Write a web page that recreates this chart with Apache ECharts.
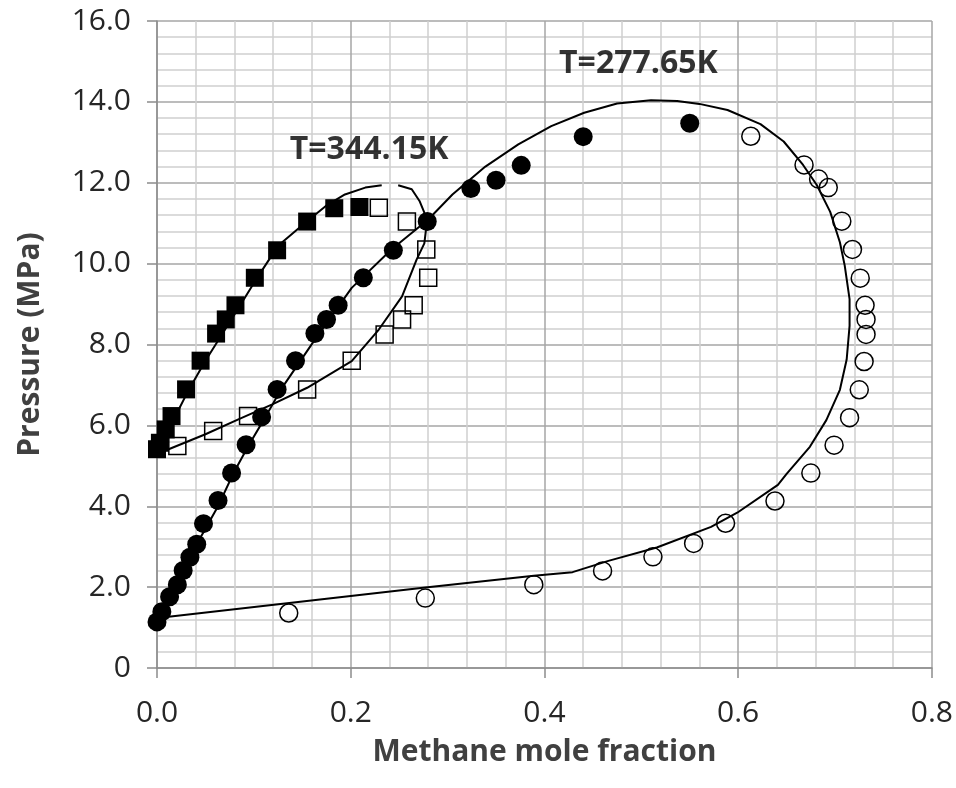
<!DOCTYPE html>
<html>
<head>
<meta charset="utf-8">
<script src="https://cdn.jsdelivr.net/npm/echarts@6/dist/echarts.min.js"></script>
<style>
  html, body { margin: 0; padding: 0; background: #fff; }
  #chart { width: 956px; height: 788px; }
</style>
</head>
<body>
<div id="chart"></div>
<script>
// T = 344.15 K, measured (filled squares = liquid, open squares = vapour)
const sq344X = [0.000, 0.003, 0.009, 0.015, 0.030, 0.045, 0.061, 0.071, 0.081, 0.101, 0.124, 0.155, 0.183, 0.209]
const sq344Y = [5.41, 5.57, 5.90, 6.23, 6.89, 7.60, 8.27, 8.62, 8.97, 9.65, 10.33, 11.04, 11.37, 11.40]
const osq344X = [0.021, 0.058, 0.094, 0.155, 0.201, 0.235, 0.253, 0.265, 0.280, 0.278, 0.258, 0.229]
const osq344Y = [5.49, 5.86, 6.23, 6.89, 7.60, 8.25, 8.62, 8.97, 9.65, 10.35, 11.04, 11.38]

// T = 277.65 K, measured (filled circles / open circles)
const ci277X = [0.000, 0.005, 0.013, 0.021, 0.027, 0.034, 0.041, 0.048, 0.063, 0.077, 0.092, 0.108, 0.124,
  0.143, 0.163, 0.175, 0.187, 0.213, 0.244, 0.279, 0.324, 0.350, 0.376, 0.440, 0.550]
const ci277Y = [1.14, 1.39, 1.76, 2.06, 2.41, 2.74, 3.06, 3.57, 4.14, 4.82, 5.52, 6.21, 6.89,
  7.60, 8.27, 8.62, 8.97, 9.65, 10.33, 11.04, 11.86, 12.06, 12.43, 13.14, 13.47]
const oci277X = [0.136, 0.277, 0.389, 0.460, 0.512, 0.554, 0.587, 0.638, 0.675, 0.699, 0.715, 0.725,
  0.730, 0.732, 0.732, 0.731, 0.726, 0.718, 0.707, 0.693, 0.683, 0.668, 0.613]
const oci277Y = [1.36, 1.73, 2.06, 2.40, 2.75, 3.08, 3.58, 4.13, 4.82, 5.51, 6.19, 6.88,
  7.58, 8.25, 8.62, 8.97, 9.64, 10.35, 11.05, 11.88, 12.09, 12.44, 13.15]

// model curves
const bub344X = [0.002, 0.019, 0.033, 0.050, 0.081, 0.101, 0.125, 0.153, 0.174, 0.194, 0.215, 0.232]
const bub344Y = [5.45, 6.23, 6.89, 7.60, 8.78, 9.56, 10.44, 11.01, 11.42, 11.71, 11.88, 11.94]
const dew344X = [0.005, 0.012, 0.050, 0.084, 0.119, 0.155, 0.201, 0.229, 0.253, 0.268, 0.276, 0.278, 0.276, 0.271, 0.263, 0.249]
const dew344Y = [5.35, 5.41, 5.78, 6.15, 6.52, 6.93, 7.59, 8.37, 9.19, 10.10, 10.50, 10.90, 11.26, 11.55, 11.84, 11.94]
const env277X = [0.000, 0.013, 0.027, 0.041, 0.063, 0.079, 0.095, 0.112, 0.128, 0.163, 0.201, 0.242, 0.280, 0.305,
  0.339, 0.373, 0.407, 0.441, 0.475, 0.510, 0.537, 0.560, 0.589, 0.623, 0.647, 0.667, 0.681, 0.695,
  0.705, 0.710, 0.715, 0.715, 0.712, 0.705, 0.691, 0.674, 0.650, 0.641, 0.599, 0.572, 0.516, 0.466,
  0.429, 0.389, 0.277, 0.012]
const env277Y = [1.16, 1.76, 2.41, 3.06, 4.00, 4.82, 5.52, 6.21, 6.89, 8.12, 9.40, 10.35, 11.09, 11.71,
  12.40, 12.95, 13.40, 13.73, 13.96, 14.04, 14.02, 13.95, 13.80, 13.45, 13.02, 12.44, 11.95, 11.28,
  10.53, 9.95, 9.12, 8.46, 7.63, 6.88, 6.13, 5.47, 4.80, 4.53, 3.84, 3.49, 2.98, 2.65,
  2.37, 2.28, 1.99, 1.27]

const labelText = ['T=344.15K', 'T=277.65K']
const labelX = [0.219, 0.497]
const labelY = [12.82, 14.93]

const zip = (xs, ys) => xs.map((x, i) => [x, ys[i]])

const chart = echarts.init(document.getElementById('chart'))
const font = 'Open Sans'

const lineSeries = (xs, ys) => ({
  type: 'line',
  data: zip(xs, ys),
  symbol: 'none',
  smooth: false,
  lineStyle: { color: '#000', width: 2 },
  z: 2
})

const option = {
  animation: false,
  grid: { left: 157, right: 20, top: 21, bottom: 120 },
  xAxis: {
    type: 'value',
    min: 0,
    max: 0.8,
    interval: 0.2,
    name: 'Methane mole fraction',
    nameLocation: 'middle',
    nameGap: 69,
    nameTextStyle: { fontFamily: font, fontSize: 30, fontWeight: 'bold', color: '#404040' },
    axisLine: { lineStyle: { color: '#8c8c8c', width: 1.5 } },
    axisTick: { show: true, length: 10, lineStyle: { color: '#8c8c8c', width: 1.5 } },
    axisLabel: {
      fontFamily: font, fontSize: 30, color: '#262626', margin: 30,
      formatter: v => v.toFixed(1)
    },
    splitLine: { lineStyle: { color: '#a6a6a6', width: 1.5 } },
    minorTick: { show: false, splitNumber: 5 },
    minorSplitLine: { show: true, lineStyle: { color: '#d0d0d0', width: 1.5 } }
  },
  yAxis: {
    type: 'value',
    min: 0,
    max: 16,
    interval: 2,
    name: 'Pressure (MPa)',
    nameLocation: 'middle',
    nameGap: 112,
    nameTextStyle: { fontFamily: font, fontSize: 30, fontWeight: 'bold', color: '#404040' },
    axisLine: { show: true, lineStyle: { color: '#8c8c8c', width: 1.5 } },
    axisTick: { show: true, length: 10, lineStyle: { color: '#8c8c8c', width: 1.5 } },
    axisLabel: {
      fontFamily: font, fontSize: 30, color: '#262626', margin: 26,
      formatter: v => (v === 0 ? '0' : v.toFixed(1))
    },
    splitLine: { lineStyle: { color: '#a6a6a6', width: 1.5 } },
    minorTick: { show: false, splitNumber: 5 },
    minorSplitLine: { show: true, lineStyle: { color: '#d0d0d0', width: 1.5 } }
  },
  series: [
    lineSeries(bub344X, bub344Y),
    lineSeries(dew344X, dew344Y),
    lineSeries(env277X, env277Y),
    {
      type: 'scatter',
      data: zip(osq344X, osq344Y),
      symbol: 'rect',
      symbolSize: 17,
      itemStyle: { color: 'transparent', borderColor: '#000', borderWidth: 1.5, opacity: 1 },
      z: 3
    },
    {
      type: 'scatter',
      data: zip(oci277X, oci277Y),
      symbol: 'circle',
      symbolSize: 18,
      itemStyle: { color: 'transparent', borderColor: '#000', borderWidth: 1.5, opacity: 1 },
      z: 3
    },
    {
      type: 'scatter',
      data: zip(sq344X, sq344Y),
      symbol: 'rect',
      symbolSize: 18,
      itemStyle: { color: '#000', opacity: 1 },
      z: 4
    },
    {
      type: 'scatter',
      data: zip(ci277X, ci277Y),
      symbol: 'circle',
      symbolSize: 19,
      itemStyle: { color: '#000', opacity: 1 },
      z: 4
    },
    {
      type: 'scatter',
      data: labelText.map((t, i) => ({ name: t, value: [labelX[i], labelY[i]] })),
      symbolSize: 0,
      label: {
        show: true,
        position: 'inside',
        formatter: p => p.name,
        fontFamily: font,
        fontSize: 32,
        fontWeight: 'bold',
        color: '#000'
      },
      z: 5
    }
  ]
}

chart.setOption(option)
</script>
</body>
</html>
